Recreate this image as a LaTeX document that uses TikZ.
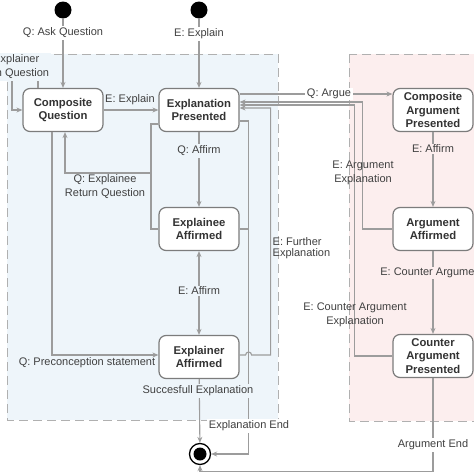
\documentclass[tikz,border=0pt]{standalone}
\usepackage{fontspec}
\setmainfont{Liberation Sans}
\usepackage{xcolor}
\usetikzlibrary{positioning,arrows.meta,calc}

\definecolor{bluezone}{HTML}{EEF5FA}
\definecolor{redzone}{HTML}{FCEEEE}
\definecolor{wire}{HTML}{9C9C9C}
\definecolor{rim}{HTML}{7C7C7C}
\definecolor{ink}{HTML}{404040}

\tikzset{
  stbox/.style={draw=rim, fill=white, line width=1.2pt, rounded corners=7pt,
    minimum width=80pt, minimum height=43pt, inner sep=1pt, align=center,
    text=ink!80!black, font=\fontsize{11.3}{13.5}\selectfont\bfseries},
  trans/.style={draw=wire, line width=1.1pt, ->},
  link/.style={draw=wire, line width=1.1pt},
  lbl/.style={text=ink, align=center, inner sep=1.5pt, font=\fontsize{11}{14}\selectfont},
  zone/.style={draw=wire!80, line width=1pt, dash pattern=on 9pt off 5pt},
  startdot/.style={circle, fill=black, minimum size=17pt, inner sep=0pt},
}

\begin{document}
\begin{tikzpicture}[x=1pt, y=-1pt, >={Stealth[length=6pt, width=5pt]}]
  \useasboundingbox (0,0) rectangle (474,474);

  %zone
  \draw[zone, fill=bluezone] (7,54) rectangle (278,420);
  \draw[zone, fill=redzone] (349,54) rectangle (490,421);

  %start and end
  \node[startdot] (s1) at (63,10) {};
  \node[startdot] (s2) at (199,10) {};
  \node[circle, draw=black, line width=1.3pt, fill=white, minimum size=21pt, inner sep=0pt] (fin) at (200,454) {};
  \fill (fin.center) circle (6.5pt);

  %states
  \node[stbox] (CQ) at (63,110) {Composite\\Question};
  \node[stbox] (EP) at (199,110) {Explanation\\Presented};
  \node[stbox] (EeA) at (199,229) {Explainee\\Affirmed};
  \node[stbox] (ErA) at (199,357) {Explainer\\Affirmed};
  \node[stbox] (CAP) at (433,110) {Composite\\Argument\\Presented};
  \node[stbox] (AA) at (433,229) {Argument\\Affirmed};
  \node[stbox] (CtAP) at (433,356) {Counter\\Argument\\Presented};

  %explanation side
  \draw[trans] (s1) -- (CQ);
  \draw[trans] (s2) -- (EP);
  \draw[trans] (CQ) -- (EP);
  \draw[trans] ([xshift=-25pt]CQ.north) |- (12,67) |- (CQ.west);
  \draw[trans] ([yshift=-14pt]EP.west) -| (151,173) -| ([xshift=2pt]CQ.south);
  \draw[link] (EeA.west) -| (151,173);
  \draw[trans] ([xshift=-11pt]CQ.south) |- ([yshift=2pt]ErA.west);
  \draw[trans] (EP) -- (EeA);
  \draw[<->, link] (EeA) -- (ErA);
  \draw[trans] (ErA) -- (fin);
  \draw[trans] ([yshift=-11pt]EP.east) -- ++(9,0) |- (fin.east);
  \draw[link] (EeA.east) -- ++(9,0);
  \draw[trans] ([yshift=2pt]ErA.east) -- ++(6,0) arc[start angle=180, end angle=0, radius=3pt]
    -- ++(19,0) |- ([yshift=2pt]EP.east);

  %argument side
  \draw[trans] ([yshift=16pt]EP.east) -- ([yshift=16pt]CAP.west);
  \draw[trans] (AA.west) -- ++(-30,0) |- ([yshift=8pt]EP.east);
  \draw[trans] (CtAP.west) -- ++(-38,0) |- ([yshift=5pt]EP.east);
  \draw[trans] (CAP) -- (AA);
  \draw[trans] (AA) -- (CtAP);
  \draw[trans] (CtAP.south) -- ++(0,93) -| (fin.south);

  %labels
  \node[lbl, fill=white] at (63,33) {Q: Ask Question};
  \node[lbl, fill=white] at (199,34) {E: Explain};
  \node[lbl] at (130,100) {E: Explain};
  \node[lbl, fill=bluezone] at (9,67) {Q: Explainer\\Return Question};
  \node[lbl] at (105,187) {Q: Explainee\\Return Question};
  \node[lbl, fill=bluezone] at (199,151) {Q: Affirm};
  \node[lbl, fill=bluezone] at (199,291) {E: Affirm};
  \node[lbl, anchor=north] at (87,356) {Q: Preconception statement};
  \node[lbl, fill=bluezone] at (198,391) {Succesfull Explanation};
  \node[lbl, fill=white] at (249,426) {Explanation End};
  \node[lbl, anchor=west, align=left, font=\fontsize{11}{11.5}\selectfont] at (271,248) {E: Further\\Explanation};
  \node[lbl, fill=white] at (329,94) {Q: Argue};
  \node[lbl] at (363,173) {E: Argument\\Explanation};
  \node[lbl, fill=redzone] at (433,149) {E: Affirm};
  \node[lbl, fill=redzone] at (432,273) {E: Counter Argument};
  \node[lbl] at (355,315) {E: Counter Argument\\Explanation};
  \node[lbl, fill=white] at (433,445) {Argument End};
\end{tikzpicture}
\end{document}
